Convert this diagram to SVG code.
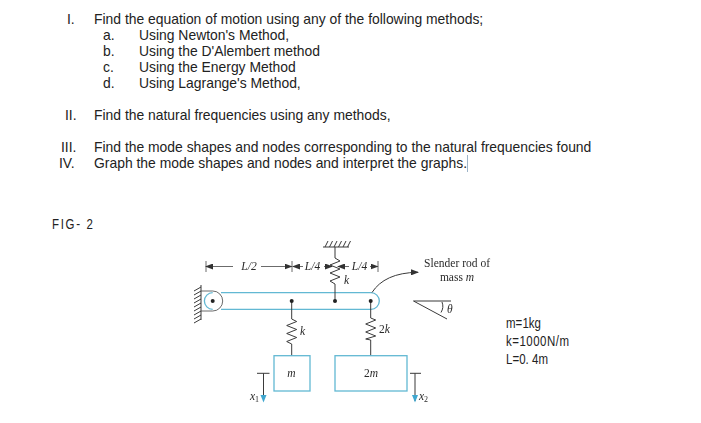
<svg xmlns="http://www.w3.org/2000/svg" width="701" height="423" viewBox="0 0 701 423">
<style>
.t{font-family:"Liberation Sans",Arial,sans-serif;font-size:13.9px;fill:#222}
.m{font-family:"Liberation Sans",Arial,sans-serif;font-size:14px;fill:#222}
.f{font-family:"Liberation Serif","Times New Roman",serif;font-size:11.5px;fill:#2a2a2a}
.i{font-style:italic}
.mid{text-anchor:middle}
.blue{fill:none;stroke:#62b8d3;stroke-width:1.3}
.ln{fill:none;stroke:#3a3a3a;stroke-width:1}
.thin{fill:none;stroke:#444;stroke-width:.8}
.dot{fill:#222}
</style>
<defs>
<filter id="soft" x="-5%" y="-5%" width="110%" height="110%"><feGaussianBlur stdDeviation="0.3"/></filter>
<marker id="ah" markerWidth="8" markerHeight="6" refX="7" refY="3" orient="auto" markerUnits="userSpaceOnUse"><path d="M0 0L8 3L0 6Z" fill="#333"/></marker>
<marker id="ahs" markerWidth="8" markerHeight="6" refX="1" refY="3" orient="auto" markerUnits="userSpaceOnUse"><path d="M8 0L0 3L8 6Z" fill="#333"/></marker>
</defs>
<rect width="701" height="423" fill="#fff"/>
<g id="questions">
<text class="t" x="67" y="24">I.</text><text class="t" x="94" y="24">Find the equation of motion using any of the following methods;</text>
<text class="t" x="103" y="40">a.</text><text class="t" x="139" y="40">Using Newton's Method,</text>
<text class="t" x="103" y="56">b.</text><text class="t" x="139" y="56">Using the D'Alembert method</text>
<text class="t" x="103" y="72">c.</text><text class="t" x="139" y="72">Using the Energy Method</text>
<text class="t" x="103" y="88">d.</text><text class="t" x="139" y="88">Using Lagrange's Method,</text>
<text class="t" x="65" y="120">II.</text><text class="t" x="94" y="120">Find the natural frequencies using any methods,</text>
<text class="t" x="61" y="152">III.</text><text class="t" x="94" y="152">Find the mode shapes and nodes corresponding to the natural frequencies found</text>
<text class="t" x="59" y="168">IV.</text><text class="t" x="94" y="168">Graph the mode shapes and nodes and interpret the graphs.</text>
<path d="M467.500 155V172" stroke="#9db4c8" stroke-width="1" fill="none"/>
</g>
<g id="fig-label"><text class="m" transform="translate(52 229) scale(.82 1)" textLength="50" lengthAdjust="spacing">FIG- 2</text></g>
<g id="parameters">
<text class="m" transform="translate(506 328) scale(.82 1)" textLength="42.700" lengthAdjust="spacing">m=1kg</text>
<text class="m" transform="translate(506 346) scale(.82 1)" textLength="76.800" lengthAdjust="spacing">k=1000N/m</text>
<text class="m" transform="translate(506 364) scale(.82 1)" textLength="51.200" lengthAdjust="spacing">L=0. 4m</text>
</g>
<g filter="url(#soft)">
<g id="wall">
<path class="ln" d="M201 285V320M201 287l-7 4M201 291l-7 4M201 295l-7 4M201 299l-7 4M201 303l-7 4M201 307l-7 4M201 311l-7 4M201 315l-7 4M201 319l-7 4"/>
<path class="thin" d="M201 291H212.700a10 10 0 0 1 0 20H201"/>
</g>
<g id="rod">
<path class="blue" d="M221 292.700H371a8.300 8.300 0 0 1 0 16.600H221"/>
<path class="blue" d="M212.700 292.700a8.300 8.300 0 0 0 0 16.600"/>
<circle class="dot" cx="212.700" cy="301" r="2"/>
</g>
<g id="ceiling">
<path class="ln" d="M323 247H349M325 247l3-6M329.500 247l3-6M334 247l3-6M338.500 247l3-6M343 247l3-6M347.500 247l3-6"/>
</g>
<g id="connectors">
<path class="ln" d="M335 247V258l5 3-10 4 10 4-10 4 10 4-10 4 5 3V301"/>
<path class="ln" d="M291.700 301V319l5 2.500-10 4 10 4-10 4 10 4-10 4 5 2.500V355.700"/>
<path class="ln" d="M370.700 301V318l5 2-10 4 10 4-10 4 10 4-10 3 5 1V355.700"/>
<path class="thin" d="M206 261V272M292 261V272M378 261V272"/>
<path class="thin" marker-start="url(#ahs)" d="M206 266.500H233"/>
<path class="thin" marker-end="url(#ah)" d="M261 266.500H291.500"/>
<path class="thin" marker-start="url(#ahs)" d="M293 266.500H303"/>
<path class="thin" marker-end="url(#ah)" d="M324 266.500H332"/>
<path class="thin" marker-start="url(#ahs)" d="M338 266.500H349"/>
<path class="thin" marker-end="url(#ah)" d="M370 266.500H377.500"/>
<circle class="dot" cx="291.700" cy="301" r="2"/>
<circle class="dot" cx="335" cy="301" r="2"/>
<circle class="dot" cx="370.700" cy="301" r="2"/>
<path class="ln" d="M372 292.500C380 280 395 272.500 418 272.300" marker-end="url(#ah)"/>
<path class="ln" d="M257 373.300H269.500M263.500 373.300V401"/>
<path class="ln" d="M410 373.300H421M415 373.300V401"/>
<path d="M260.500 395H266.500L263.500 402.500Z" fill="#3fa7cf"/>
<path d="M412 395H418L415 402.500Z" fill="#3fa7cf"/>
<path class="ln" d="M413.500 301H451M413.500 301L447 319"/>
<path class="ln" d="M442 302C443.500 306 443 309 441 312.500"/>
</g>
<g id="mass-m"><rect class="blue" x="274" y="355.700" width="36" height="35.300"/><text class="f i mid" x="291.500" y="376.500">m</text></g>
<g id="mass-2m"><rect class="blue" x="335" y="355.700" width="72" height="35.300"/><text class="f mid" x="371" y="376.500">2<tspan class="i">m</tspan></text></g>
<g id="labels">
<text class="f i mid" x="249" y="270">L/2</text>
<text class="f i mid" x="312.500" y="270">L/4</text>
<text class="f i mid" x="359.500" y="270">L/4</text>
<text class="f i" x="344" y="284">k</text>
<text class="f i" x="300" y="335">k</text>
<text class="f" x="379" y="333">2<tspan class="i">k</tspan></text>
<text class="f mid" x="457" y="267" textLength="66">Slender rod of</text>
<text class="f mid" x="457" y="281">mass <tspan class="i">m</tspan></text>
<text class="f i" x="447" y="313" font-size="13">θ</text>
<text class="f" x="250" y="400" font-size="13"><tspan class="i">x</tspan><tspan font-size="8" dy="1.500">1</tspan></text>
<text class="f" x="419" y="400" font-size="13"><tspan class="i">x</tspan><tspan font-size="8" dy="1.500">2</tspan></text>
</g>
</g>
</svg>
